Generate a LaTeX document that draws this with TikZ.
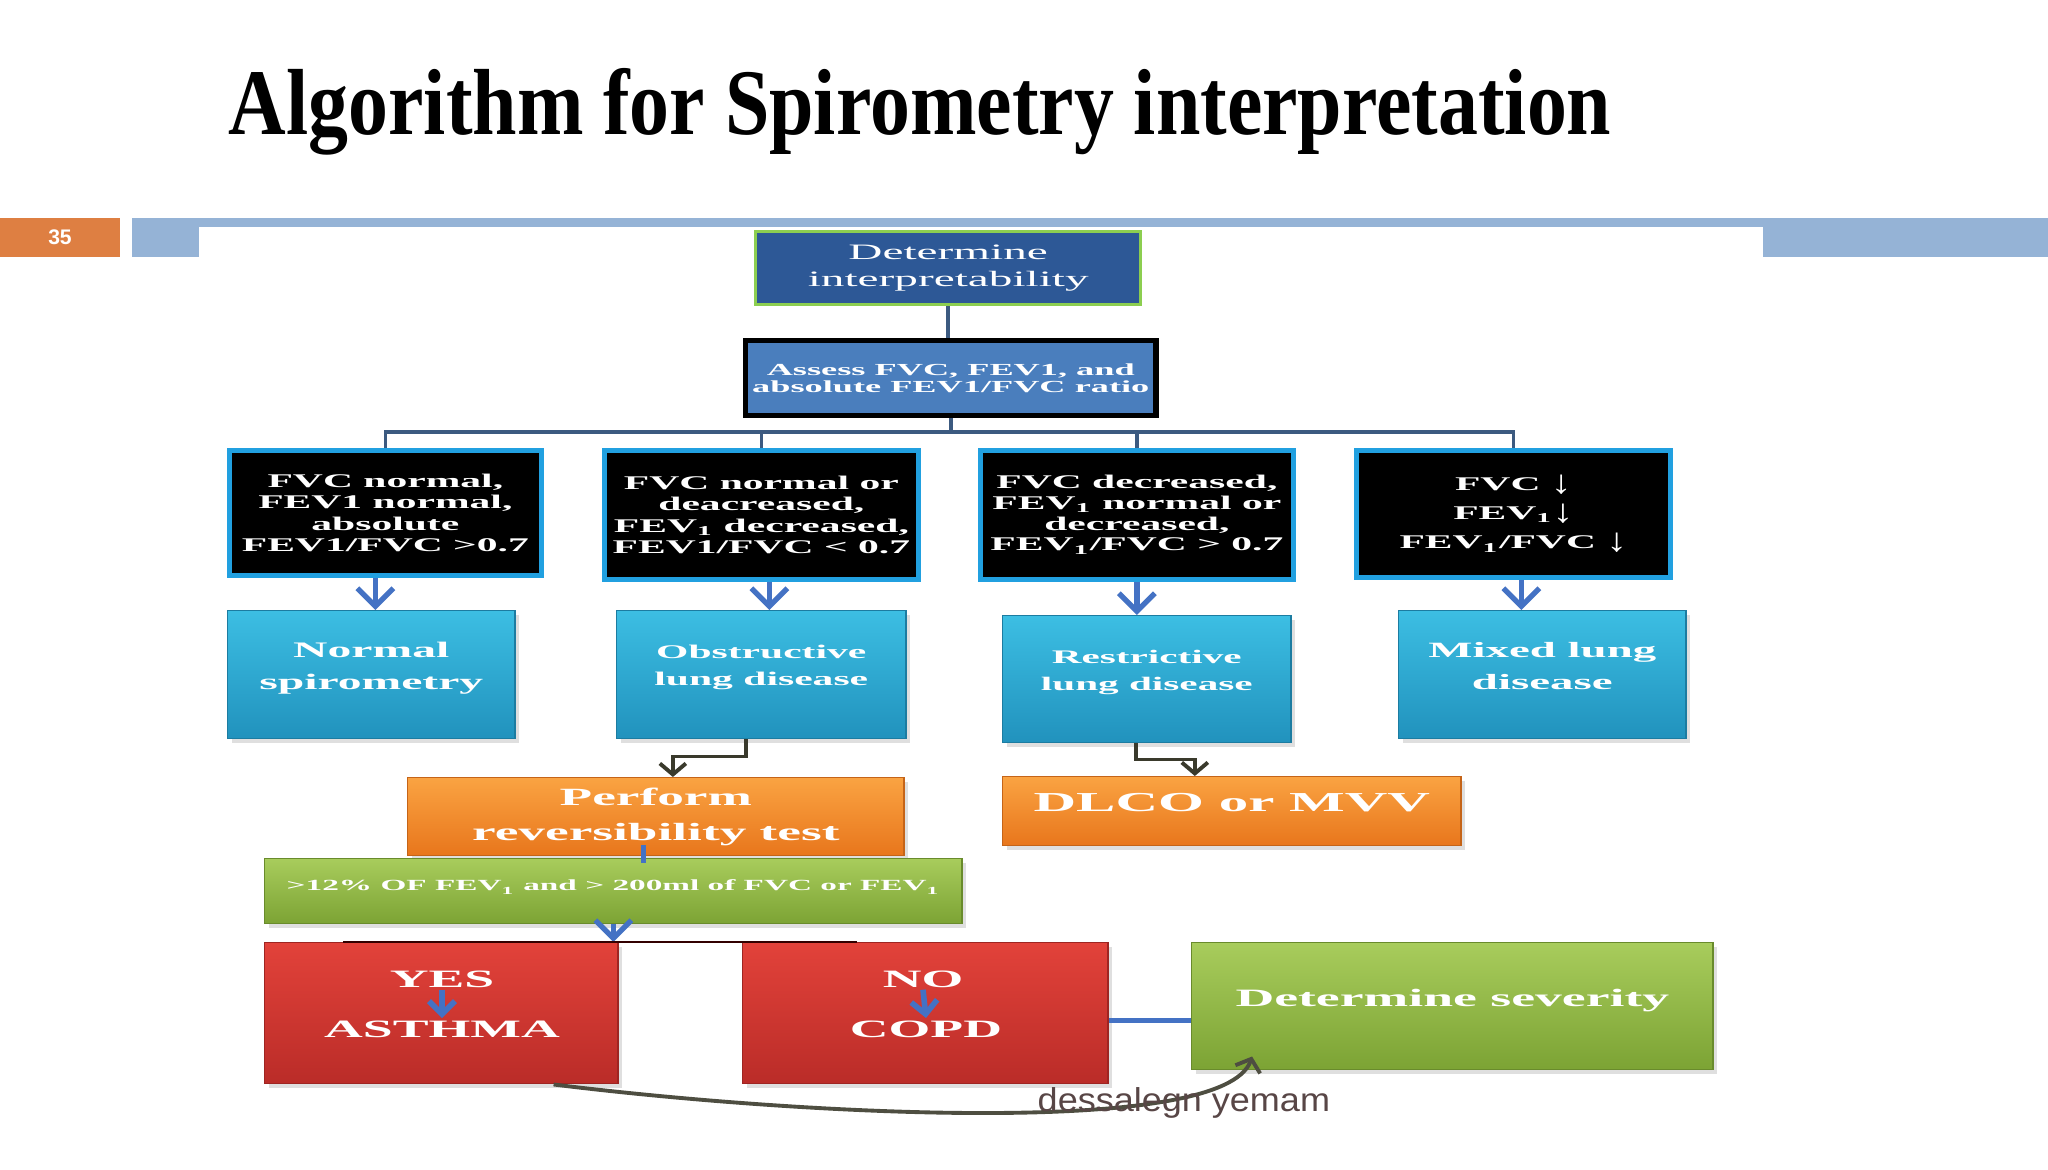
\documentclass[tikz,border=0pt]{standalone}
\usepackage{fontspec}
\usepackage{graphicx}
\setmainfont{Liberation Serif}
\setsansfont{Liberation Sans}
\newfontfamily\titlefont[FakeStretch=0.85]{Liberation Serif}
\newfontfamily\widefont[FakeStretch=2.15]{Liberation Serif}
\newfontfamily\signfont[FakeStretch=1.09]{Liberation Sans}
\usepackage{tikz}
\usetikzlibrary{positioning,arrows.meta,shadows}
\definecolor{barblue}{RGB}{149,179,214}
\definecolor{taborange}{RGB}{222,127,66}
\definecolor{navyfill}{RGB}{45,88,150}
\definecolor{limeedge}{RGB}{140,206,80}
\definecolor{midblue}{RGB}{74,126,189}
\definecolor{linkblue}{RGB}{60,90,128}
\definecolor{rimblue}{RGB}{33,160,224}
\definecolor{arrowblue}{RGB}{68,114,196}
\definecolor{cyantop}{RGB}{60,190,227}
\definecolor{cyanbot}{RGB}{33,146,189}
\definecolor{orangetop}{RGB}{250,163,66}
\definecolor{orangebot}{RGB}{232,118,28}
\definecolor{greentop}{RGB}{168,204,92}
\definecolor{greenbot}{RGB}{124,163,52}
\definecolor{redtop}{RGB}{226,66,58}
\definecolor{redbot}{RGB}{186,44,40}
\definecolor{olivedark}{RGB}{58,58,44}
\definecolor{signgray}{RGB}{88,70,70}
\newcommand{\fsz}[2]{\fontsize{#1}{#2}\selectfont}
% text block set a little above the middle of its box (extra depth)
\newcommand{\lift}[2]{\raisebox{0pt}[\height][\dimexpr\depth+#1+#1\relax]{\begin{tabular}{@{}c@{}}#2\end{tabular}}}
\newcommand{\downmark}{\raisebox{-0.35ex}{\scalebox{1}[1.7]{\mdseries ↓}}}

\begin{document}
\begin{tikzpicture}[x=0.01cm, y=-0.01cm,
  box/.style={anchor=north west, inner sep=1pt, text=white,
              font=\widefont\bfseries},
  navy/.style={box, align=center, fill=navyfill, draw=limeedge, line width=0.9pt,
               font=\widefont\fsz{6.25}{7.4}},
  assessbox/.style={box, align=center, fill=midblue, draw=black, line width=1.5pt},
  crit/.style={box, align=center, fill=black, draw=rimblue, line width=1.3pt},
  tile/.style={box, top color=#1top, bottom color=#1bot,
               draw=#1bot!85!black, line width=0.4pt,
               drop shadow={shadow xshift=0.4mm, shadow yshift=-0.4mm, opacity=0.25}},
  redtxt/.style={anchor=base, inner sep=0.5pt, text=white,
                 font=\widefont\bfseries\fsz{7.1}{8}},
  link/.style={draw=linkblue, line width=1pt},
  bluearrow/.style={-{Straight Barb[length=1.8mm,width=3.6mm]}, draw=arrowblue, line width=1.5pt},
  smallarrow/.style={-{Straight Barb[length=1.3mm,width=2.6mm]}, draw=arrowblue, line width=1.6pt},
  elbow/.style={-{Straight Barb[length=1.1mm,width=2.6mm]}, draw=olivedark, line width=1.1pt},
  bluelink/.style={draw=arrowblue, line width=1.4pt}]
  \useasboundingbox (0,0) rectangle (2048,1170);
  \fill[white] (0,0) rectangle (2048,1170);

  % slide header
  \node[anchor=base, inner sep=0pt, font=\titlefont\bfseries\fsz{26.7}{30}] (title)
    at (920,135) {Algorithm for Spirometry interpretation};
  \fill[barblue] (132,218) rectangle (2048,257);
  \fill[white] (199,227) rectangle (1763,258);
  \fill[taborange] (0,218) rectangle (120,257);
  \node[text=white, font=\sffamily\bfseries\fsz{6}{7}] (page) at (60,237) {35};

  % top of the tree
  \node[navy, minimum width=38.5mm, minimum height=7.3mm] (interp) at (754,230)
    {Determine\\interpretability};
  \node[assessbox, minimum width=41mm, minimum height=7.5mm, font=\widefont\bfseries\fsz{4.8}{4.9}]
    (assess) at (743,338) {Assess FVC, FEV1, and\\absolute FEV1/FVC ratio};

  % criteria
  \node[crit, minimum width=31.2mm, minimum height=12.5mm, font=\widefont\bfseries\fsz{5.5}{6.1}]
    (k1) at (227,448) {FVC normal,\\FEV1 normal,\\absolute\\FEV1/FVC >0.7};
  \node[crit, minimum width=31.4mm, minimum height=12.9mm, font=\widefont\bfseries\fsz{5.5}{6.1}]
    (k2) at (602,448) {FVC normal or\\deacreased,\\FEV\textsubscript{1} decreased,\\FEV1/FVC < 0.7};
  \node[crit, minimum width=31.3mm, minimum height=12.9mm, font=\widefont\bfseries\fsz{5.5}{5.9}]
    (k3) at (978,448) {FVC decreased,\\FEV\textsubscript{1} normal or\\decreased,\\FEV\textsubscript{1}/FVC > 0.7};
  \node[crit, minimum width=31.4mm, minimum height=12.7mm, font=\widefont\bfseries\fsz{5.5}{8.3}]
    (k4) at (1354,448) {FVC \downmark\\FEV\textsubscript{1}\downmark\\FEV\textsubscript{1}/FVC \downmark};

  % diagnoses
  \node[tile=cyan, minimum width=28.7mm, minimum height=12.8mm, font=\widefont\bfseries\fsz{6.3}{9.1}]
    (c1) at (227,610) {\lift{0.8mm}{Normal\\spirometry}};
  \node[tile=cyan, minimum width=28.9mm, minimum height=12.8mm, font=\widefont\bfseries\fsz{5.5}{7.7}]
    (c2) at (616,610) {\lift{0.8mm}{Obstructive\\lung disease}};
  \node[tile=cyan, minimum width=28.8mm, minimum height=12.7mm, font=\widefont\bfseries\fsz{5.45}{7.7}]
    (c3) at (1002,615) {\lift{0.8mm}{Restrictive\\lung disease}};
  \node[tile=cyan, minimum width=28.7mm, minimum height=12.8mm, font=\widefont\bfseries\fsz{6.2}{9.1}]
    (c4) at (1398,610) {\lift{0.8mm}{Mixed lung\\disease}};

  % further tests
  \node[tile=orange, align=center, minimum width=49.6mm, minimum height=7.8mm, font=\widefont\bfseries\fsz{7.05}{10}]
    (o1) at (407,777) {Perform\\reversibility test};
  \node[tile=orange, minimum width=45.8mm, minimum height=6.9mm, font=\widefont\bfseries\fsz{7.8}{9}]
    (o2) at (1002,776) {\lift{0.6mm}{DLCO or MVV}};
  \node[tile=green, minimum width=69.7mm, minimum height=6.5mm, font=\widefont\bfseries\fsz{4.4}{5}]
    (g1) at (264,858) {\lift{0.4mm}{>12\% OF FEV\textsubscript{1} and > 200ml of FVC or FEV\textsubscript{1}}};

  % outcome
  \node[tile=red, minimum width=35.3mm, minimum height=14.1mm] (r1) at (264,942) {};
  \node[tile=red, minimum width=36.5mm, minimum height=14.1mm] (r2) at (742,942) {};
  \node[tile=green, minimum width=52.1mm, minimum height=12.7mm, font=\widefont\bfseries\fsz{7.1}{8}]
    (g2) at (1191,942) {\lift{0.5mm}{Determine severity}};
  \node[redtxt] (yes) at (442,987) {YES};
  \node[redtxt] (asthma) at (442,1037) {ASTHMA};
  \node[redtxt] (no) at (923,987) {NO};
  \node[redtxt] (copd) at (926,1037) {COPD};

  % connectors
  \coordinate (bus) at (946,432);
  \draw[link] (interp.south) -- (interp.south |- assess.north);
  \draw[link] (assess.south) -- (assess.south |- bus);
  \draw[link] (k1.north) |- (bus) -| (k4.north);
  \foreach \k in {k2,k3}
    \draw[link] (\k.north) -- (\k.north |- bus);
  \foreach \k/\c/\dx in {k1/c1/-1.0mm,k2/c2/0.8mm,k3/c3/0mm,k4/c4/0.8mm}
    \draw[bluearrow] ([xshift=\dx]\k.south) -- ([xshift=\dx]\k.south |- \c.north);
  \draw[elbow] ([xshift=-1.5mm]c2.south) -- ++(0,17) -| ([xshift=1.7mm]o1.north);
  \draw[elbow] ([xshift=-1.1mm]c3.south) -- ++(0,16) -| ([xshift=-3.7mm]o2.north);
  \coordinate (tick) at ([xshift=-1.2mm]o1.south);
  \draw[bluelink, shorten >=-0.5mm] ([yshift=1.1mm]tick) -- (tick |- g1.north);
  \draw[bluearrow] (g1.south) -- (g1.south |- r1.north);
  \draw[draw=black!80!red, line width=0.8pt] ([xshift=7.9mm]r1.north west) -- ([xshift=11.5mm]r2.north west);
  \draw[smallarrow] (yes.south) -- (asthma.north);
  \draw[smallarrow] (no.south) -- (copd.north);
  \draw[bluelink] ([yshift=-0.7mm]r2.east) -- ([yshift=-0.7mm]r2.east -| g2.west);
  \draw[elbow, draw=olivedark!90] ([xshift=-6.5mm]r1.south east)
    .. controls (800,1115) and (1225,1138) .. ([xshift=6.1mm,yshift=1.4mm]g2.south west);
  \node[anchor=base west, inner sep=0pt, text=signgray, font=\signfont\fsz{9.4}{10}]
    (sig) at (1037,1111) {dessalegn yemam};
\end{tikzpicture}
\end{document}
